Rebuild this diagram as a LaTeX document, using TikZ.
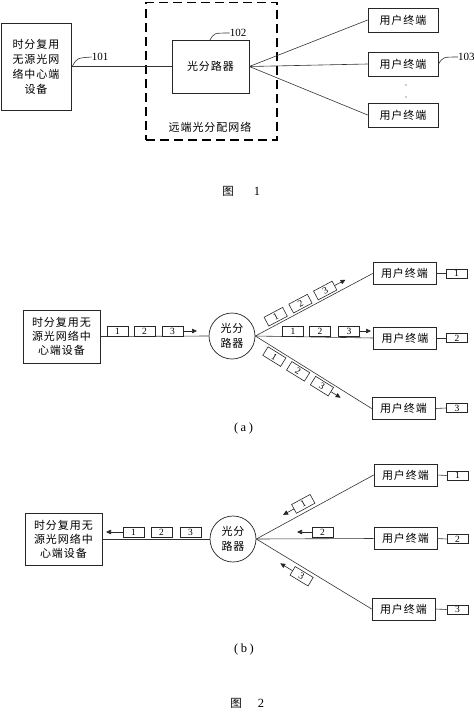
\documentclass[tikz,border=0pt]{standalone}
\usepackage{fontspec}
\setmainfont{Liberation Serif}
\newfontfamily\cjk[LetterSpace=9]{Noto Sans CJK SC}
\newfontfamily\cjkcap{Noto Sans CJK SC}
\usetikzlibrary{arrows.meta}
\begin{document}
\begin{tikzpicture}[x=1pt,y=-1pt,
  ln/.style={draw=black!80, line width=0.6pt},
  box/.style={draw=black!85, line width=0.7pt, fill=white, inner sep=0pt, align=center,
    font=\cjk\fontsize{11}{14}\selectfont},
  ubox/.style={box, minimum width=63pt, minimum height=22pt},
  circ/.style={draw=black!85, line width=0.7pt, fill=white, circle, minimum size=46pt, inner sep=0pt,
    align=center, font=\cjk\fontsize{11}{15}\selectfont},
  pkt/.style={draw=black!85, line width=0.6pt, fill=white, minimum width=21pt, minimum height=10pt,
    inner sep=0pt, font=\fontsize{9.5}{9.5}\selectfont},
  tagbox/.style={pkt, minimum height=9pt},
  pkarrow/.style={draw=black!85, line width=0.6pt, -{Triangle[length=5pt,width=4.5pt]}},
  num/.style={inner sep=0pt, font=\fontsize{11}{11}\selectfont},
  captext/.style={inner sep=0pt, font=\fontsize{12.5}{12.5}\selectfont},
  txt/.style={inner sep=0pt, font=\cjk\fontsize{11}{12}\selectfont}
]
\useasboundingbox[fill=white] (0,0) rectangle (474,713);

% ---------------- Figure 1 ----------------
\node[box, minimum width=70pt, minimum height=87pt, font=\cjk\fontsize{11}{15}\selectfont] (olt1) at (36,66.5) {时分复用\\无源光网\\络中心端\\设备};
\node[draw=black, line width=1.6pt, dash pattern=on 9pt off 5pt, minimum width=131pt, minimum height=137.5pt, inner sep=0pt] (odn) at (211.5,71.25) {};
\node[txt] (odnlbl) at (210,127) {远端光分配网络};
\node[box, minimum width=77pt, minimum height=53pt] (sp1) at (210.5,66.5) {光分路器};
\node[box, minimum width=70pt, minimum height=24pt] (ut1) at (403,20) {用户终端};
\node[box, minimum width=70pt, minimum height=24pt] (ut2) at (403,64) {用户终端};
\node[box, minimum width=70pt, minimum height=24pt] (ut3) at (403,115) {用户终端};
\draw[ln] (olt1.east) -- (sp1.west);
\draw[ln] (sp1.east) -- (ut1.west);
\draw[ln] (sp1.east) -- (ut2.west);
\draw[ln] (sp1.east) -- (ut3.west);
\fill[black!80] (406,85) circle (0.7pt) (406,97) circle (0.7pt);
% reference labels
\node[num] (t101) at (100,57) {101};
\coordinate (l101) at (72.5,66);
\draw[ln] (l101) .. controls (77,58) .. (t101.west);
\node[num] (t102) at (238,33) {102};
\coordinate (l102) at (210,40);
\draw[ln] (l102) .. controls (214,33) .. (t102.west);
\node[num, anchor=west] (t103) at (458,57) {103};
\coordinate (l103) at (438.5,64);
\draw[ln] (l103) .. controls (443,57) .. (t103.west);
\node[captext, font=\cjkcap\fontsize{11.5}{11.5}\selectfont] (f1a) at (228,191) {图};
\node[captext] (f1b) at (257,191) {1};

% ---------------- Figure 2 (a) ----------------
\node[box, minimum width=77pt, minimum height=53pt] (olta) at (61.5,336.5) {时分复用无\\源光网络中\\心端设备};
\node[circ] (ca) at (232,336) {光分\\路器};
\node[ubox] (ua1) at (404.5,273.5) {用户终端};
\node[ubox] (ua2) at (405,338) {用户终端};
\node[ubox] (ua3) at (403.5,408.5) {用户终端};
\node[tagbox] (ta1) at (456.5,273.5) {1};
\node[tagbox] (ta2) at (457,338) {2};
\node[tagbox] (ta3) at (457,408) {3};
\draw[ln] (olta.east) -- (ca.west);
\draw[ln] (ca.east) -- (ua1.west);
\draw[ln] (ca.east) -- (ua2.west);
\draw[ln] (ca.east) -- (ua3.west);
\draw[ln] (ua1.east) -- (ta1.west);
\draw[ln] (ua2.east) -- (ta2.west);
\draw[ln] (ua3.east) -- (ta3.west);
% packets downstream, left
\node[pkt] (pa11) at (117.5,331) {1};
\node[pkt] (pa12) at (144.5,331) {2};
\node[pkt] (pa13) at (172.5,331) {3};
\coordinate (tipa1) at (197,331);
\draw[pkarrow] (pa13.east) -- (tipa1);
% packets middle right
\node[pkt] (pa21) at (293,331) {1};
\node[pkt] (pa22) at (320,331) {2};
\node[pkt] (pa23) at (349,331) {3};
\coordinate (tipa2) at (371,331);
\draw[pkarrow] (pa23.east) -- (tipa2);
% packets top diagonal
\begin{scope}[shift={(ca.east)}, rotate=27.9]
  \node[pkt, transform shape] (pa31) at (27,-7.5) {1};
  \node[pkt, transform shape] (pa32) at (55,-7.5) {2};
  \node[pkt, transform shape] (pa33) at (83,-7.5) {3};
  \coordinate (tipa3) at (106,-7.5);
  \draw[pkarrow] (pa33.east) -- (tipa3);
\end{scope}
% packets bottom diagonal
\begin{scope}[shift={(ca.east)}, rotate=-31.8]
  \node[pkt, transform shape] (pa41) at (27,7.5) {1};
  \node[pkt, transform shape] (pa42) at (55,7.5) {2};
  \node[pkt, transform shape] (pa43) at (83,7.5) {3};
  \coordinate (tipa4) at (105,7.5);
  \draw[pkarrow] (pa43.east) -- (tipa4);
\end{scope}
\node[captext] (capa) at (243.5,428) {(\hspace{2.5pt}a\hspace{2.5pt})};

% ---------------- Figure 2 (b) ----------------
\node[box, minimum width=77pt, minimum height=52pt] (oltb) at (63.5,539) {时分复用无\\源光网络中\\心端设备};
\node[circ] (cb) at (233,539) {光分\\路器};
\node[ubox] (ub1) at (405.5,475) {用户终端};
\node[ubox] (ub2) at (405.5,538.5) {用户终端};
\node[ubox] (ub3) at (403.5,609) {用户终端};
\node[tagbox] (tb1) at (457.5,475.5) {1};
\node[tagbox] (tb2) at (457.5,539) {2};
\node[tagbox] (tb3) at (457.5,609.5) {3};
\draw[ln] (oltb.east) -- (cb.west);
\draw[ln] (cb.east) -- (ub1.west);
\draw[ln] (cb.east) -- (ub2.west);
\draw[ln] (cb.east) -- (ub3.west);
\draw[ln] (ub1.east) -- (tb1.west);
\draw[ln] (ub2.east) -- (tb2.west);
\draw[ln] (ub3.east) -- (tb3.west);
% packets upstream, left
\node[pkt] (pb11) at (133.5,532) {1};
\node[pkt] (pb12) at (161.5,532) {2};
\node[pkt] (pb13) at (190.5,532) {3};
\coordinate (tipb1) at (106,532);
\draw[pkarrow] (pb11.west) -- (tipb1);
% middle right
\node[pkt] (pb2) at (322.5,532) {2};
\coordinate (tipb2) at (297,532);
\draw[pkarrow] (pb2.west) -- (tipb2);
% top diagonal
\begin{scope}[shift={(cb.east)}, rotate=28.5]
  \node[pkt, transform shape] (pb3) at (58,-8.5) {1};
  \coordinate (tipb3) at (35,-8.5);
  \draw[pkarrow] (pb3.west) -- (tipb3);
\end{scope}
% bottom diagonal
\begin{scope}[shift={(cb.east)}, rotate=-31.1]
  \node[pkt, transform shape] (pb4) at (58,8.5) {3};
  \coordinate (tipb4) at (33,8.5);
  \draw[pkarrow] (pb4.west) -- (tipb4);
\end{scope}
\node[captext] (capb) at (244,649) {(\hspace{2.5pt}b\hspace{2.5pt})};
\node[captext, font=\cjkcap\fontsize{11.5}{11.5}\selectfont] (f2a) at (236,703) {图};
\node[captext] (f2b) at (261,703) {2};
\end{tikzpicture}
\end{document}
